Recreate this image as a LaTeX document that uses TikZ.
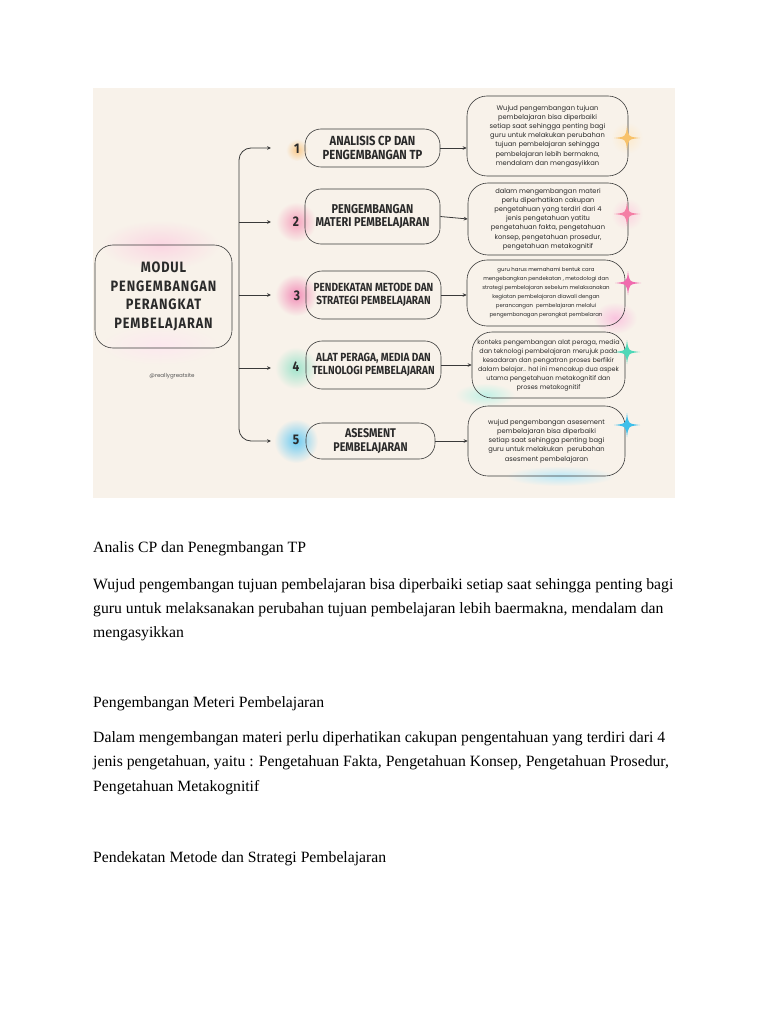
\documentclass[tikz,border=0pt]{standalone}
\usepackage{fontspec}
\setmainfont{Liberation Serif}
\newfontfamily\descfont{Poppins}
\newfontfamily\titlefont[FakeStretch=0.85]{Fira Sans}
\newfontfamily\maintitlefont[FakeStretch=0.85,LetterSpace=6]{Fira Sans}
\usetikzlibrary{arrows.meta}
\definecolor{cream}{HTML}{F8F2EA}
\definecolor{ink}{HTML}{2A2A2A}
\definecolor{linec}{HTML}{3A3A3A}
\definecolor{gOne}{HTML}{F9C98A}
\definecolor{gTwo}{HTML}{F5A3BE}
\definecolor{gThree}{HTML}{F28DB7}
\definecolor{gFour}{HTML}{9FE3CB}
\definecolor{gFive}{HTML}{6CCBF2}
\definecolor{sOne}{HTML}{F8C26A}
\definecolor{sTwo}{HTML}{F47FA5}
\definecolor{sThree}{HTML}{F06BAE}
\definecolor{sFour}{HTML}{4FD8B8}
\definecolor{sFive}{HTML}{3FBFEA}
\newcommand\mysparkle[3]{%
  \fill[#3, shift={(#1,#2)}] (0,-12) .. controls (1.2,-1.2) .. (13,0) .. controls (1.2,1.2) .. (0,12) .. controls (-1.2,1.2) .. (-13,0) .. controls (-1.2,-1.2) .. (0,-12) -- cycle;}
\begin{document}
\begin{tikzpicture}[x=1pt,y=-1pt,
  conn/.style={draw=linec, line width=0.8pt, -{Stealth[length=4pt,width=3.6pt]}},
  titlebox/.style={draw=linec, line width=0.6pt, rounded corners=16, align=center, inner sep=0pt, text=ink,
    font={\titlefont\bfseries\fontsize{11.8}{12.5}\selectfont}},
  descbox/.style={draw=linec, line width=0.6pt, rounded corners=20, align=center, inner sep=0pt, text=ink,
    font={\descfont\fontsize{6.7}{9.2}\selectfont}},
  num/.style={text=ink, font={\titlefont\bfseries\fontsize{14}{14}\selectfont}, inner sep=0pt},
  body/.style={anchor=base west, inner sep=0pt, text=black, font={\fontsize{15.7}{18}\selectfont}}]
\useasboundingbox (0,0) rectangle (768,1024);
\fill[white] (0,0) rectangle (768,1024);
\fill[cream] (93,88) rectangle (675,498);

% glows
\shade[inner color=gTwo!45, outer color=cream] (160,245) ellipse (60 and 25);
\shade[inner color=gTwo!25, outer color=cream] (160,345) ellipse (60 and 20);
\shade[inner color=gOne, outer color=cream] (297,150) circle (11);
\shade[inner color=gTwo, outer color=cream] (296,222) circle (20);
\shade[inner color=gThree, outer color=cream] (296,295) circle (21);
\shade[inner color=gFour, outer color=cream] (296,368) circle (21);
\shade[inner color=gFive, outer color=cream] (296,441) circle (22);
\shade[inner color=sOne!35, outer color=cream] (627,138) circle (16);
\shade[inner color=sTwo!35, outer color=cream] (627,214) circle (16);
\shade[inner color=sThree!40, outer color=cream] (615,318) ellipse (22 and 16);
\shade[inner color=sFour!35, outer color=cream] (485,395) ellipse (30 and 12);
\shade[inner color=sFive!35, outer color=cream] (560,476) ellipse (55 and 10);

% main box
\node[draw=linec, line width=0.6pt, rounded corners=18, minimum width=137pt, minimum height=103pt, inner sep=0pt,
  align=center, text=ink, font={\maintitlefont\bfseries\fontsize{15}{18.5}\selectfont}] (main) at (163.5,296.5)
  {MODUL\\PENGEMBANGAN\\PERANGKAT\\PEMBELAJARAN};
\node[text=ink!80, font={\descfont\fontsize{5.5}{6}\selectfont}, inner sep=0pt] (site) at (172,376) {@reallygreatsite};

% trunk coordinates
\coordinate (a1) at (271,148);
\coordinate (a2) at (271,222);
\coordinate (a3) at (271,295);
\coordinate (a4) at (271,368);
\coordinate (a5) at (271,441);
\coordinate (tk) at (239,295);
\coordinate (b2) at (239,222);
\coordinate (b4) at (239,368);
\draw[conn, rounded corners=12] (tk) |- (a1);
\draw[conn, rounded corners=12] (tk) |- (a5);
\draw[conn] (b2) -- (a2);
\draw[conn] (tk) -- (a3);
\draw[conn] (b4) -- (a4);

% numbers
\node[num] (n1) at (297,149) {1};
\node[num] (n2) at (296,222) {2};
\node[num] (n3) at (297,296) {3};
\node[num] (n4) at (296,367) {4};
\node[num] (n5) at (296,440) {5};

% title boxes
\node[titlebox, minimum width=135pt, minimum height=38pt, font={\titlefont\bfseries\fontsize{13.2}{13.5}\selectfont}] (t1) at (372.5,148) {ANALISIS CP DAN\\PENGEMBANGAN TP};
\node[titlebox, minimum width=135pt, minimum height=55pt, font={\titlefont\bfseries\fontsize{12.8}{13.5}\selectfont}] (t2) at (372.5,216.5) {PENGEMBANGAN\\MATERI PEMBELAJARAN};
\node[titlebox, minimum width=135pt, minimum height=48pt] (t3) at (373.5,295) {PENDEKATAN METODE DAN\\STRATEGI PEMBELAJARAN};
\node[titlebox, minimum width=135pt, minimum height=48pt] (t4) at (373.5,365) {ALAT PERAGA, MEDIA DAN\\TELNOLOGI PEMBELAJARAN};
\node[titlebox, minimum width=129pt, minimum height=36pt, font={\titlefont\bfseries\fontsize{12.6}{13.5}\selectfont}] (t5) at (370.5,441) {ASESMENT\\PEMBELAJARAN};

% description boxes
\node[descbox, minimum width=161pt, minimum height=80pt] (d1) at (547.5,136)
  {Wujud pengembangan tujuan\\pembelajaran bisa diperbaiki\\setiap saat sehingga penting bagi\\guru untuk melakukan perubahan\\tujuan pembelajaran sehingga\\pembelajaran lebih bermakna,\\mendalam dan mengasyikkan};
\node[descbox, minimum width=160pt, minimum height=72pt] (d2) at (548,219)
  {dalam mengembangan materi\\perlu diperhatikan cakupan\\pengetahuan yang terdiri dari 4\\jenis pengetahuan yatitu\\pengetahuan fakta, pengetahuan\\konsep, pengetahuan prosedur,\\pengetahuan metakognitif};
\node[descbox, minimum width=158pt, minimum height=66pt, font={\descfont\fontsize{5.4}{9}\selectfont}] (d3) at (546,293)
  {guru harus memahami bentuk cara\\mengebangkan pendekatan , metodologi dan\\strategi pembelajaran sebelum melaksanakan\\kegiatan pembelajaran diawali dengan\\perancangan \ pembelajaran melalui\\pengembanagan perangkat pembelaran};
\node[descbox, minimum width=153pt, minimum height=66pt, font={\descfont\fontsize{6.4}{9}\selectfont}] (d4) at (548.5,365)
  {konteks pengembangan alat peraga, media\\dan teknologi pembelajaran merujuk pada\\kesadaran dan pengatran proses berfikir\\dalam belajar.. hal ini mencakup dua aspek\\utama pengetahuan metakognitif dan\\proses metakognitif};
\node[descbox, minimum width=157pt, minimum height=70pt] (d5) at (546.5,441)
  {wujud pengembangan asesement\\pembelajaran bisa diperbaiki\\setiap saat sehingga penting bagi\\guru untuk melakukan \ perubahan\\asesment pembelajaran};

% connectors title -> description
\draw[conn] (t1.east) -- (t1.east -| d1.west);
\draw[conn] (t2.east) -- (d2.west);
\draw[conn] (t3.east) -- (t3.east -| d3.west);
\draw[conn] (t4.east) -- (d4.west);
\draw[conn] (t5.east) -- (t5.east -| d5.west);

% sparkles
\mysparkle{627}{138}{sOne}
\mysparkle{627}{214}{sTwo}
\mysparkle{628}{283}{sThree}
\mysparkle{627}{352}{sFour}
\mysparkle{627}{425}{sFive}

% body text
\node[body] (p1) at (93,552) {Analis CP dan Penegmbangan TP};
\node[body] (p2) at (93,589) {Wujud pengembangan tujuan pembelajaran bisa diperbaiki setiap saat sehingga penting bagi};
\node[body] (p3) at (93,613) {guru untuk melaksanakan perubahan tujuan pembelajaran lebih baermakna, mendalam dan};
\node[body] (p4) at (93,637) {mengasyikkan};
\node[body] (p5) at (93,707) {Pengembangan Meteri Pembelajaran};
\node[body] (p6) at (93,742) {Dalam mengembangan materi perlu diperhatikan cakupan pengentahuan yang terdiri dari 4};
\node[body] (p7) at (93,766) {jenis pengetahuan, yaitu : Pengetahuan Fakta, Pengetahuan Konsep, Pengetahuan Prosedur,};
\node[body] (p8) at (93,791) {Pengetahuan Metakognitif};
\node[body] (p9) at (93,862) {Pendekatan Metode dan Strategi Pembelajaran};
\end{tikzpicture}
\end{document}
